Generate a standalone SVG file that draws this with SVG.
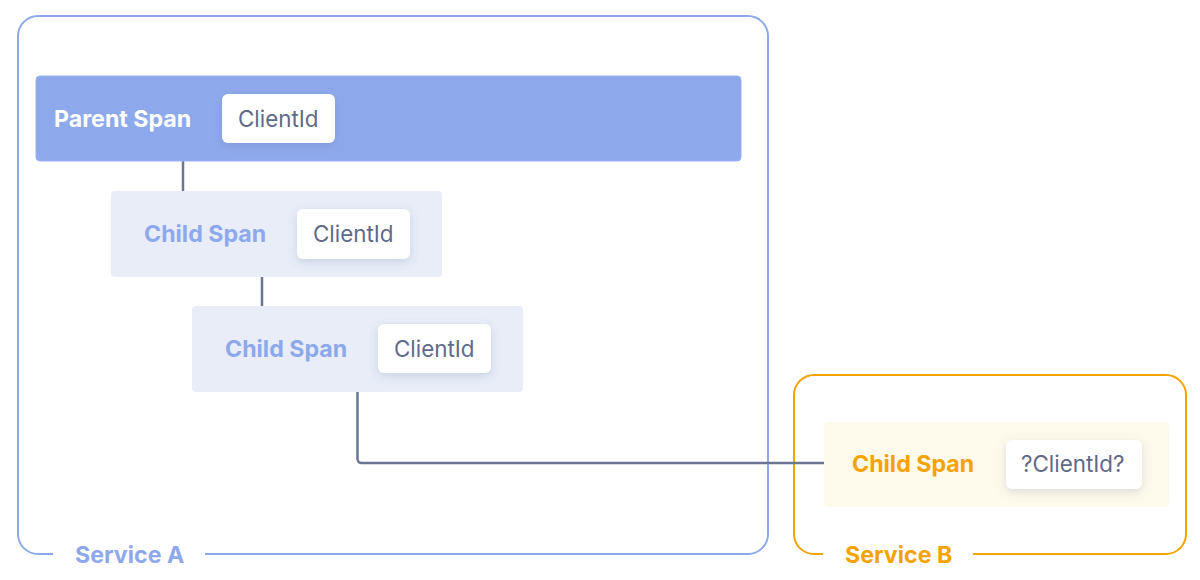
<svg xmlns="http://www.w3.org/2000/svg" width="1200" height="580" viewBox="0 0 1200 580">
  <defs>
    <filter id="pillShadow" x="-30%" y="-40%" width="160%" height="200%">
      <feDropShadow dx="0" dy="3" stdDeviation="5" flood-color="#5a6a9a" flood-opacity="0.22"/>
    </filter>
    <style>
      .frame { fill: none; stroke-width: 2; }
      .frameA { stroke: #8ea9eb; }
      .frameB { stroke: #f5a300; }
      .label { font-family: Inter, "Noto Sans", "Liberation Sans", sans-serif; font-weight: 700; font-size: 23.2px; }
      .labelA { fill: #8ea9eb; }
      .labelB { fill: #f5a300; }
      .pill { fill: #ffffff; filter: url(#pillShadow); }
      .pillText { font-family: Inter, "Noto Sans", "Liberation Sans", sans-serif; font-weight: 400; font-size: 22.4px; fill: #5f6a89; }
      .spanTitle { font-family: Inter, "Noto Sans", "Liberation Sans", sans-serif; font-weight: 700; font-size: 23.2px; }
      .link { fill: none; stroke: #6b7594; stroke-width: 2.5; stroke-linecap: butt; }
    </style>
  </defs>

  <rect width="1200" height="580" fill="#ffffff"/>

  <!-- Service A boundary, open at the bottom for its label -->
  <g id="service-a">
    <path class="frame frameA" d="M53 554 H38 A20 20 0 0 1 18 534 V36 A20 20 0 0 1 38 16 H748 A20 20 0 0 1 768 36 V534 A20 20 0 0 1 748 554 H205"/>
    <text class="label labelA" x="75" y="563">Service A</text>
  </g>

  <!-- Service B boundary -->
  <g id="service-b">
    <path class="frame frameB" d="M823 554 H814 A20 20 0 0 1 794 534 V395 A20 20 0 0 1 814 375 H1166 A20 20 0 0 1 1186 395 V534 A20 20 0 0 1 1166 554 H973"/>
    <text class="label labelB" x="845" y="563">Service B</text>
  </g>

  <!-- Connectors between spans -->
  <g id="connectors">
    <path class="link" d="M183 161 V191"/>
    <path class="link" d="M262 277 V306"/>
    <path class="link" d="M357.5 392 V459 A4 4 0 0 0 361.5 463 H824"/>
  </g>

  <g id="parent-span">
    <rect x="36" y="76" width="705" height="85" rx="4" fill="#8ea9eb" stroke="#9ab1ee" stroke-width="1"/>
    <text class="spanTitle" x="54" y="127" fill="#ffffff">Parent Span</text>
    <rect class="pill" x="222" y="94" width="113" height="49" rx="6"/>
    <text class="pillText" x="238" y="127">ClientId</text>
  </g>

  <g id="child-span-1">
    <rect x="111" y="191" width="331" height="86" rx="4" fill="#e8edf8"/>
    <text class="spanTitle labelA" x="144" y="242">Child Span</text>
    <rect class="pill" x="297" y="209" width="113" height="50" rx="6"/>
    <text class="pillText" x="313" y="242">ClientId</text>
  </g>

  <g id="child-span-2">
    <rect x="192" y="306" width="331" height="86" rx="4" fill="#e8edf8"/>
    <text class="spanTitle labelA" x="225" y="357">Child Span</text>
    <rect class="pill" x="378" y="324" width="113" height="49" rx="6"/>
    <text class="pillText" x="394" y="357">ClientId</text>
  </g>

  <g id="child-span-b">
    <rect x="824" y="422" width="345" height="85" rx="4" fill="#fefaeb"/>
    <text class="spanTitle labelB" x="852" y="472">Child Span</text>
    <rect class="pill" x="1006" y="440" width="136" height="49" rx="6"/>
    <text class="pillText" x="1021" y="472">?ClientId?</text>
  </g>
</svg>
